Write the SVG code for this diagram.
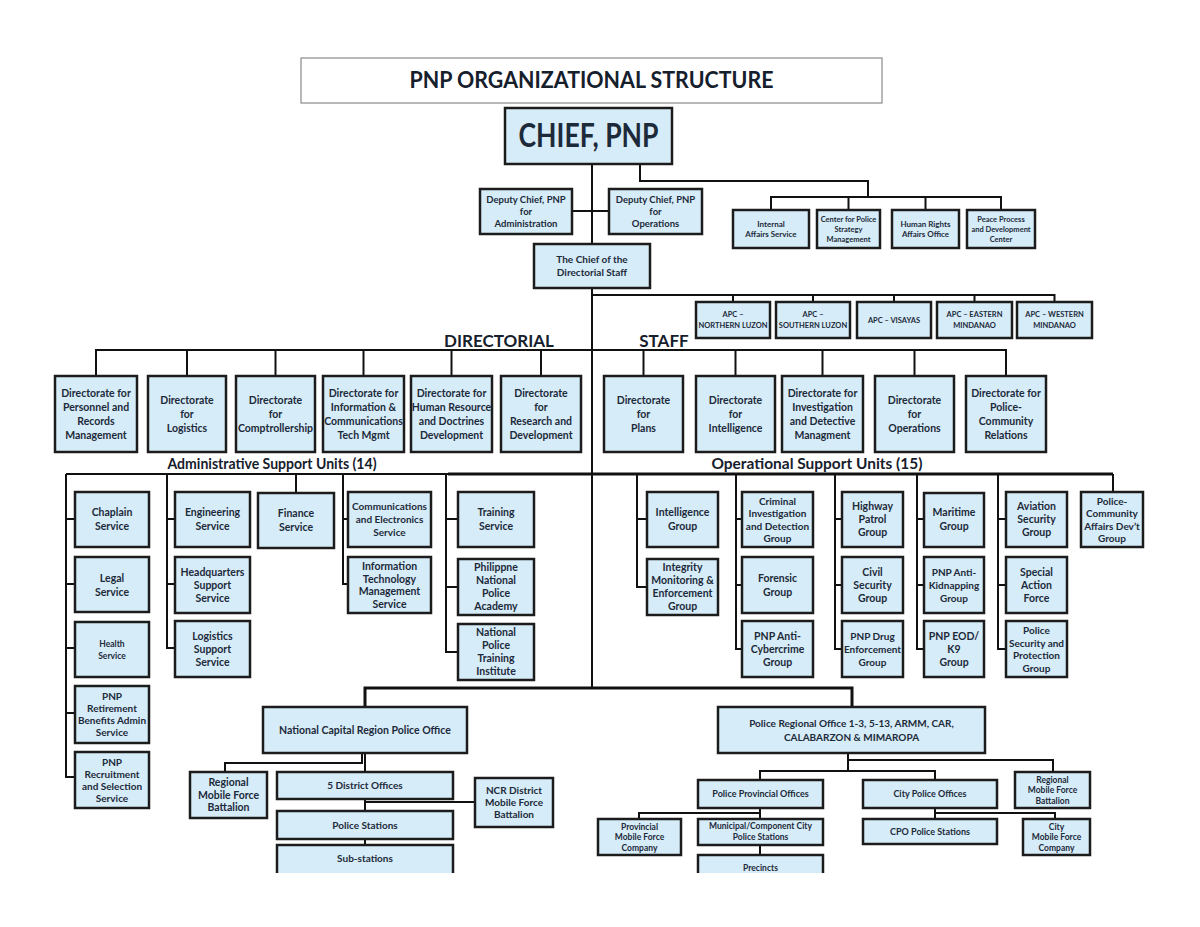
<svg xmlns="http://www.w3.org/2000/svg" width="1200" height="927" viewBox="0 0 1200 927">
<style>
.b{fill:#d6ecf8;stroke:#1c1c1c;stroke-width:2.5}
.t{font-family:Lato,"Open Sans","Liberation Sans",sans-serif;font-weight:bold;fill:#1d2a3a;text-anchor:middle}
.c{fill:none;stroke:#111;stroke-width:2}
.k{fill:none;stroke:#111;stroke-width:3}
.h{font-family:Lato,"Open Sans","Liberation Sans",sans-serif;font-weight:bold;fill:#16202c;text-anchor:middle}
</style>
<rect width="1200" height="927" fill="#fff"/>
<g id="title"><rect x="301" y="58" width="581" height="45" fill="#fff" stroke="#8a8a8a" stroke-width="1.2"/><text class="h" x="591.5" y="88" font-size="22" font-weight="900" fill="#111" textLength="364" lengthAdjust="spacingAndGlyphs">PNP ORGANIZATIONAL STRUCTURE</text></g>
<g id="connectors">
<path class="c" d="M592 164V688"/>
<path class="c" d="M572 211H609"/>
<path class="c" d="M640 164V181H868V197"/>
<path class="c" d="M771 210V197H1001V210M848.5 197V210M925.5 197V210"/>
<path class="c" d="M592 295H1054.5V302M733 295V302M813 295V302M894 295V302M974.5 295V302"/>
<path class="c" d="M96 376V350H1006V376M187 350V376M275.5 350V376M363.5 350V376M451.5 350V376M541 350V376M643.5 350V376M735.5 350V376M822.5 350V376M914.5 350V376"/>
<path class="c" d="M66 474H1113"/>
<path class="k" d="M448 474H1113"/>
<path class="c" d="M66 474V777H75M66 519H75M66 584H75M66 648H75M66 713H75"/>
<path class="c" d="M167 474V648H175M167 519H175M167 584H175"/>
<path class="c" d="M296 474V493"/>
<path class="c" d="M343 474V584H348M343 519H348"/>
<path class="c" d="M446 474V652H458M446 519H458M446 587H458"/>
<path class="c" d="M637 474V587H647M637 519H647"/>
<path class="c" d="M736 474V649H742M736 519H742M736 585H742"/>
<path class="c" d="M835 474V649H842M835 519H842M835 585H842"/>
<path class="c" d="M917 474V649H924M917 519H924M917 585H924"/>
<path class="c" d="M998 474V649H1006M998 519H1006M998 585H1006"/>
<path class="c" d="M1113 474V492"/>
<path class="k" d="M365 707V688H852V707"/>
<path class="c" d="M362 753V763H225V772M365 753V772"/>
<path class="c" d="M365 799V811M365 802H475M365 839V845"/>
<path class="c" d="M848 753V771M848 760H1053V772M760 780V771H935V780"/>
<path class="c" d="M760 808V819M760 813H639V819M760 845V855"/>
<path class="c" d="M935 808V819M935 813H1055V819"/>
</g>
<g id="chief"><rect class="b" x="505" y="108" width="167" height="56"/><text class="t" x="588.5" y="147" font-size="33" fill="#15202e" textLength="140" lengthAdjust="spacingAndGlyphs">CHIEF, PNP</text></g>
<g id="dep-admin"><rect class="b" x="480" y="189" width="92" height="45"/><text class="t" font-size="9.5"><tspan x="526" y="203">Deputy Chief, PNP</tspan><tspan x="526" y="215">for</tspan><tspan x="526" y="227">Administration</tspan></text></g>
<g id="dep-ops"><rect class="b" x="609" y="189" width="93" height="45"/><text class="t" font-size="9.5"><tspan x="655.5" y="203">Deputy Chief, PNP</tspan><tspan x="655.5" y="215">for</tspan><tspan x="655.5" y="227">Operations</tspan></text></g>
<g id="cds"><rect class="b" x="534" y="244" width="116" height="44"/><text class="t" font-size="10"><tspan x="592" y="263">The Chief of the</tspan><tspan x="592" y="276">Directorial Staff</tspan></text></g>
<g id="ias"><rect class="b" x="733" y="210" width="76" height="38"/><text class="t" font-size="8"><tspan x="771" y="227">Internal</tspan><tspan x="771" y="237">Affairs Service</tspan></text></g>
<g id="cpsm"><rect class="b" x="817" y="210" width="63" height="38"/><text class="t" font-size="7.5"><tspan x="848.5" y="222">Center for Police</tspan><tspan x="848.5" y="232">Strategy</tspan><tspan x="848.5" y="242">Management</tspan></text></g>
<g id="hrao"><rect class="b" x="892" y="210" width="67" height="38"/><text class="t" font-size="8"><tspan x="925.5" y="227">Human Rights</tspan><tspan x="925.5" y="237">Affairs Office</tspan></text></g>
<g id="ppdc"><rect class="b" x="967" y="210" width="68" height="38"/><text class="t" font-size="7.5"><tspan x="1001" y="222">Peace Process</tspan><tspan x="1001" y="232">and Development</tspan><tspan x="1001" y="242">Center</tspan></text></g>
<g id="apc-nl"><rect class="b" x="696" y="302" width="74" height="36"/><text class="t" font-size="7.5"><tspan x="733" y="317">APC –</tspan><tspan x="733" y="328">NORTHERN LUZON</tspan></text></g>
<g id="apc-sl"><rect class="b" x="776" y="302" width="74" height="36"/><text class="t" font-size="7.5"><tspan x="813" y="317">APC –</tspan><tspan x="813" y="328">SOUTHERN LUZON</tspan></text></g>
<g id="apc-v"><rect class="b" x="857" y="302" width="74" height="36"/><text class="t" font-size="7.5" x="894" y="322.6">APC – VISAYAS</text></g>
<g id="apc-em"><rect class="b" x="937" y="302" width="75" height="36"/><text class="t" font-size="7.5"><tspan x="974.5" y="317">APC – EASTERN</tspan><tspan x="974.5" y="328">MINDANAO</tspan></text></g>
<g id="apc-wm"><rect class="b" x="1017" y="302" width="75" height="36"/><text class="t" font-size="7.5"><tspan x="1054.5" y="317">APC – WESTERN</tspan><tspan x="1054.5" y="328">MINDANAO</tspan></text></g>
<text class="h" x="499" y="347" font-size="17">DIRECTORIAL</text>
<text class="h" x="664" y="347" font-size="17">STAFF</text>
<g id="d-prm"><rect class="b" x="55" y="376" width="82" height="76"/><text class="t" font-size="10.5"><tspan x="96" y="397">Directorate for</tspan><tspan x="96" y="411">Personnel and</tspan><tspan x="96" y="425">Records</tspan><tspan x="96" y="439">Management</tspan></text></g>
<g id="d-log"><rect class="b" x="148" y="376" width="78" height="76"/><text class="t" font-size="10.5"><tspan x="187" y="404">Directorate</tspan><tspan x="187" y="418">for</tspan><tspan x="187" y="432">Logistics</tspan></text></g>
<g id="d-comp"><rect class="b" x="236" y="376" width="79" height="76"/><text class="t" font-size="10.5"><tspan x="275.5" y="404">Directorate</tspan><tspan x="275.5" y="418">for</tspan><tspan x="275.5" y="432">Comptrollership</tspan></text></g>
<g id="d-ict"><rect class="b" x="323" y="376" width="81" height="76"/><text class="t" font-size="10.5"><tspan x="363.5" y="397">Directorate for</tspan><tspan x="363.5" y="411">Information &amp;</tspan><tspan x="363.5" y="425">Communications</tspan><tspan x="363.5" y="439">Tech Mgmt</tspan></text></g>
<g id="d-hrdd"><rect class="b" x="411" y="376" width="81" height="76"/><text class="t" font-size="10.5"><tspan x="451.5" y="397">Directorate for</tspan><tspan x="451.5" y="411">Human Resource</tspan><tspan x="451.5" y="425">and Doctrines</tspan><tspan x="451.5" y="439">Development</tspan></text></g>
<g id="d-rd"><rect class="b" x="501" y="376" width="80" height="76"/><text class="t" font-size="10.5"><tspan x="541" y="397">Directorate</tspan><tspan x="541" y="411">for</tspan><tspan x="541" y="425">Research and</tspan><tspan x="541" y="439">Development</tspan></text></g>
<g id="d-plans"><rect class="b" x="604" y="376" width="79" height="76"/><text class="t" font-size="10.5"><tspan x="643.5" y="404">Directorate</tspan><tspan x="643.5" y="418">for</tspan><tspan x="643.5" y="432">Plans</tspan></text></g>
<g id="d-intel"><rect class="b" x="696" y="376" width="79" height="76"/><text class="t" font-size="10.5"><tspan x="735.5" y="404">Directorate</tspan><tspan x="735.5" y="418">for</tspan><tspan x="735.5" y="432">Intelligence</tspan></text></g>
<g id="d-idm"><rect class="b" x="782" y="376" width="81" height="76"/><text class="t" font-size="10.5"><tspan x="822.5" y="397">Directorate for</tspan><tspan x="822.5" y="411">Investigation</tspan><tspan x="822.5" y="425">and Detective</tspan><tspan x="822.5" y="439">Managment</tspan></text></g>
<g id="d-ops"><rect class="b" x="875" y="376" width="79" height="76"/><text class="t" font-size="10.5"><tspan x="914.5" y="404">Directorate</tspan><tspan x="914.5" y="418">for</tspan><tspan x="914.5" y="432">Operations</tspan></text></g>
<g id="d-pcr"><rect class="b" x="966" y="376" width="80" height="76"/><text class="t" font-size="10.5"><tspan x="1006" y="397">Directorate for</tspan><tspan x="1006" y="411">Police-</tspan><tspan x="1006" y="425">Community</tspan><tspan x="1006" y="439">Relations</tspan></text></g>
<text class="h" x="272" y="469" font-size="16" textLength="209" lengthAdjust="spacingAndGlyphs">Administrative Support Units (14)</text>
<text class="h" x="817" y="469" font-size="16" textLength="211" lengthAdjust="spacingAndGlyphs">Operational Support Units (15)</text>
<g id="chaplain"><rect class="b" x="75" y="492" width="74" height="55"/><text class="t" font-size="10.5"><tspan x="112" y="516">Chaplain</tspan><tspan x="112" y="530">Service</tspan></text></g>
<g id="legal"><rect class="b" x="75" y="557" width="74" height="55"/><text class="t" font-size="10.5"><tspan x="112" y="582">Legal</tspan><tspan x="112" y="596">Service</tspan></text></g>
<g id="health"><rect class="b" x="75" y="622" width="74" height="55"/><text class="t" font-size="8.5"><tspan x="112" y="647">Health</tspan><tspan x="112" y="659">Service</tspan></text></g>
<g id="rbas"><rect class="b" x="75" y="686" width="74" height="57"/><text class="t" font-size="10"><tspan x="112" y="700">PNP</tspan><tspan x="112" y="712">Retirement</tspan><tspan x="112" y="724">Benefits Admin</tspan><tspan x="112" y="736">Service</tspan></text></g>
<g id="rss"><rect class="b" x="75" y="752" width="74" height="56"/><text class="t" font-size="10"><tspan x="112" y="765.5">PNP</tspan><tspan x="112" y="777.5">Recruitment</tspan><tspan x="112" y="789.5">and Selection</tspan><tspan x="112" y="801.5">Service</tspan></text></g>
<g id="eng"><rect class="b" x="175" y="492" width="75" height="55"/><text class="t" font-size="10.5"><tspan x="212.5" y="516">Engineering</tspan><tspan x="212.5" y="530">Service</tspan></text></g>
<g id="hss"><rect class="b" x="175" y="557" width="75" height="56"/><text class="t" font-size="10.5"><tspan x="212.5" y="576">Headquarters</tspan><tspan x="212.5" y="589">Support</tspan><tspan x="212.5" y="602">Service</tspan></text></g>
<g id="lss"><rect class="b" x="175" y="621" width="75" height="56"/><text class="t" font-size="10.5"><tspan x="212.5" y="640">Logistics</tspan><tspan x="212.5" y="653">Support</tspan><tspan x="212.5" y="666">Service</tspan></text></g>
<g id="finance"><rect class="b" x="258" y="493" width="76" height="55"/><text class="t" font-size="10.5"><tspan x="296" y="517">Finance</tspan><tspan x="296" y="531">Service</tspan></text></g>
<g id="ces"><rect class="b" x="348" y="492" width="83" height="55"/><text class="t" font-size="10"><tspan x="389.5" y="510">Communications</tspan><tspan x="389.5" y="523">and Electronics</tspan><tspan x="389.5" y="536">Service</tspan></text></g>
<g id="itms"><rect class="b" x="348" y="557" width="83" height="56"/><text class="t" font-size="10.5"><tspan x="389.5" y="570">Information</tspan><tspan x="389.5" y="582.5">Technology</tspan><tspan x="389.5" y="595">Management</tspan><tspan x="389.5" y="607.5">Service</tspan></text></g>
<g id="training"><rect class="b" x="458" y="492" width="76" height="55"/><text class="t" font-size="10.5"><tspan x="496" y="516">Training</tspan><tspan x="496" y="530">Service</tspan></text></g>
<g id="pnpa"><rect class="b" x="458" y="559" width="76" height="56"/><text class="t" font-size="10.5"><tspan x="496" y="571">Philippne</tspan><tspan x="496" y="584">National</tspan><tspan x="496" y="597">Police</tspan><tspan x="496" y="610">Academy</tspan></text></g>
<g id="npti"><rect class="b" x="458" y="624" width="76" height="56"/><text class="t" font-size="10.5"><tspan x="496" y="636">National</tspan><tspan x="496" y="649">Police</tspan><tspan x="496" y="662">Training</tspan><tspan x="496" y="675">Institute</tspan></text></g>
<g id="ig"><rect class="b" x="647" y="492" width="71" height="55"/><text class="t" font-size="10.5"><tspan x="682.5" y="516">Intelligence</tspan><tspan x="682.5" y="530">Group</tspan></text></g>
<g id="imeg"><rect class="b" x="647" y="559" width="71" height="56"/><text class="t" font-size="10.5"><tspan x="682.5" y="571">Integrity</tspan><tspan x="682.5" y="584">Monitoring &amp;</tspan><tspan x="682.5" y="597">Enforcement</tspan><tspan x="682.5" y="610">Group</tspan></text></g>
<g id="cidg"><rect class="b" x="742" y="492" width="71" height="55"/><text class="t" font-size="10"><tspan x="777.5" y="504.5">Criminal</tspan><tspan x="777.5" y="517">Investigation</tspan><tspan x="777.5" y="529.5">and Detection</tspan><tspan x="777.5" y="542">Group</tspan></text></g>
<g id="forensic"><rect class="b" x="742" y="557" width="71" height="56"/><text class="t" font-size="10.5"><tspan x="777.5" y="582">Forensic</tspan><tspan x="777.5" y="596">Group</tspan></text></g>
<g id="acg"><rect class="b" x="742" y="621" width="71" height="56"/><text class="t" font-size="10.5"><tspan x="777.5" y="640">PNP Anti-</tspan><tspan x="777.5" y="653">Cybercrime</tspan><tspan x="777.5" y="666">Group</tspan></text></g>
<g id="hpg"><rect class="b" x="842" y="492" width="61" height="55"/><text class="t" font-size="10.5"><tspan x="872.5" y="510">Highway</tspan><tspan x="872.5" y="523">Patrol</tspan><tspan x="872.5" y="536">Group</tspan></text></g>
<g id="csg"><rect class="b" x="842" y="557" width="61" height="56"/><text class="t" font-size="10.5"><tspan x="872.5" y="576">Civil</tspan><tspan x="872.5" y="589">Security</tspan><tspan x="872.5" y="602">Group</tspan></text></g>
<g id="deg"><rect class="b" x="842" y="621" width="61" height="56"/><text class="t" font-size="10"><tspan x="872.5" y="640">PNP Drug</tspan><tspan x="872.5" y="653">Enforcement</tspan><tspan x="872.5" y="666">Group</tspan></text></g>
<g id="mg"><rect class="b" x="924" y="493" width="60" height="54"/><text class="t" font-size="10.5"><tspan x="954" y="516">Maritime</tspan><tspan x="954" y="530">Group</tspan></text></g>
<g id="akg"><rect class="b" x="924" y="557" width="60" height="56"/><text class="t" font-size="10"><tspan x="954" y="576">PNP Anti-</tspan><tspan x="954" y="589">Kidnapping</tspan><tspan x="954" y="602">Group</tspan></text></g>
<g id="eod"><rect class="b" x="924" y="621" width="60" height="56"/><text class="t" font-size="10.5"><tspan x="954" y="640">PNP EOD/</tspan><tspan x="954" y="653">K9</tspan><tspan x="954" y="666">Group</tspan></text></g>
<g id="avseg"><rect class="b" x="1006" y="492" width="61" height="55"/><text class="t" font-size="10.5"><tspan x="1036.5" y="510">Aviation</tspan><tspan x="1036.5" y="523">Security</tspan><tspan x="1036.5" y="536">Group</tspan></text></g>
<g id="saf"><rect class="b" x="1006" y="557" width="61" height="56"/><text class="t" font-size="10.5"><tspan x="1036.5" y="576">Special</tspan><tspan x="1036.5" y="589">Action</tspan><tspan x="1036.5" y="602">Force</tspan></text></g>
<g id="pspg"><rect class="b" x="1006" y="621" width="61" height="56"/><text class="t" font-size="10"><tspan x="1036.5" y="634">Police</tspan><tspan x="1036.5" y="646.5">Security and</tspan><tspan x="1036.5" y="659">Protection</tspan><tspan x="1036.5" y="671.5">Group</tspan></text></g>
<g id="pcadg"><rect class="b" x="1081" y="492" width="62" height="55"/><text class="t" font-size="10"><tspan x="1112" y="504.5">Police-</tspan><tspan x="1112" y="517">Community</tspan><tspan x="1112" y="529.5">Affairs Dev’t</tspan><tspan x="1112" y="542">Group</tspan></text></g>
<g id="ncrpo"><rect class="b" x="263" y="707" width="204" height="46"/><text class="t" font-size="10.5" x="365" y="733.7">National Capital Region Police Office</text></g>
<g id="rmfb-ncr"><rect class="b" x="190" y="772" width="77" height="46"/><text class="t" font-size="10.5"><tspan x="228.5" y="786">Regional</tspan><tspan x="228.5" y="798.5">Mobile Force</tspan><tspan x="228.5" y="811">Battalion</tspan></text></g>
<g id="district"><rect class="b" x="277" y="772" width="176" height="27"/><text class="t" font-size="10" x="365" y="789">5 District Offices</text></g>
<g id="ncr-dmfb"><rect class="b" x="475" y="778" width="78" height="49"/><text class="t" font-size="10"><tspan x="514" y="794">NCR District</tspan><tspan x="514" y="806">Mobile Force</tspan><tspan x="514" y="818">Battalion</tspan></text></g>
<g id="ps"><rect class="b" x="277" y="811" width="176" height="28"/><text class="t" font-size="10" x="365" y="828.7">Police Stations</text></g>
<g id="subst"><rect class="b" x="277" y="845" width="176" height="40"/><text class="t" font-size="10" x="365" y="862">Sub-stations</text></g>
<g id="pro"><rect class="b" x="718" y="707" width="267" height="46"/><text class="t" font-size="10"><tspan x="851.5" y="726.5">Police Regional Office 1-3, 5-13, ARMM, CAR,</tspan><tspan x="851.5" y="740.5">CALABARZON &amp; MIMAROPA</tspan></text></g>
<g id="ppo"><rect class="b" x="698" y="780" width="125" height="28"/><text class="t" font-size="9" x="760.5" y="797">Police Provincial Offices</text></g>
<g id="cpo"><rect class="b" x="863" y="780" width="134" height="28"/><text class="t" font-size="9" x="930" y="797">City Police Offices</text></g>
<g id="rmfb"><rect class="b" x="1015" y="772" width="75" height="36"/><text class="t" font-size="8.5"><tspan x="1052.5" y="782.5">Regional</tspan><tspan x="1052.5" y="793">Mobile Force</tspan><tspan x="1052.5" y="803.5">Battalion</tspan></text></g>
<g id="pmfc"><rect class="b" x="598" y="819" width="83" height="36"/><text class="t" font-size="8.5"><tspan x="639.5" y="829.5">Provincial</tspan><tspan x="639.5" y="840">Mobile Force</tspan><tspan x="639.5" y="850.5">Company</tspan></text></g>
<g id="mcps"><rect class="b" x="698" y="819" width="125" height="26"/><text class="t" font-size="8.5"><tspan x="760.5" y="829">Municipal/Component City</tspan><tspan x="760.5" y="840">Police Stations</tspan></text></g>
<g id="precincts"><rect class="b" x="698" y="855" width="125" height="30"/><text class="t" font-size="8.5" x="760.5" y="871">Precincts</text></g>
<g id="cpo-ps"><rect class="b" x="863" y="819" width="134" height="25"/><text class="t" font-size="9" x="930" y="834.5">CPO Police Stations</text></g>
<g id="cmfc"><rect class="b" x="1023" y="819" width="67" height="36"/><text class="t" font-size="8.5"><tspan x="1056.5" y="829.5">City</tspan><tspan x="1056.5" y="840">Mobile Force</tspan><tspan x="1056.5" y="850.5">Company</tspan></text></g>
<rect x="0" y="873" width="1200" height="54" fill="#fff"/>
</svg>
